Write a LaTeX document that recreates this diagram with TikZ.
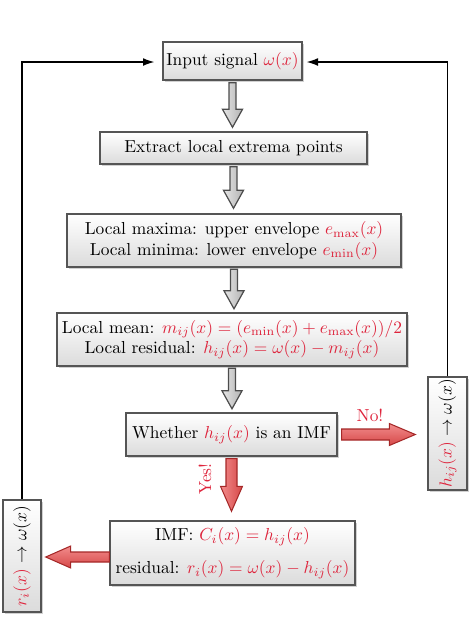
\documentclass[tikz,border=0pt]{standalone}
\usepackage{amsmath}
\usepackage{graphicx}
\usetikzlibrary{calc,shadows,arrows.meta}
\definecolor{eqred}{RGB}{222,36,60}
\definecolor{boxline}{RGB}{85,85,85}
\definecolor{arrred}{RGB}{214,72,72}
\definecolor{arrredlight}{RGB}{242,140,140}
\definecolor{arrredline}{RGB}{165,40,40}
\newcommand\pxu{0.575pt}
\newcommand\rt[1]{\textcolor{eqred}{$#1$}}
% vertical block arrow: style, from, to, shaft half, head half, head length
\newcommand\blkv[6]{%
  \path[#1] let \p1=(#2), \p2=(#3) in
    (\x1-#4*\pxu,\y1) -- (\x1+#4*\pxu,\y1) -- (\x1+#4*\pxu,\y2+#6*\pxu)
    -- (\x1+#5*\pxu,\y2+#6*\pxu) -- (\x1,\y2) -- (\x1-#5*\pxu,\y2+#6*\pxu)
    -- (\x1-#4*\pxu,\y2+#6*\pxu) -- cycle;}
% horizontal block arrow: style, from, to, shaft half, head half, signed head length
\newcommand\blkh[6]{%
  \path[#1] let \p1=(#2), \p2=(#3) in
    (\x1,\y1+#4*\pxu) -- (\x1,\y1-#4*\pxu) -- (\x2-#6*\pxu,\y1-#4*\pxu)
    -- (\x2-#6*\pxu,\y1-#5*\pxu) -- (\x2,\y1) -- (\x2-#6*\pxu,\y1+#5*\pxu)
    -- (\x2-#6*\pxu,\y1+#4*\pxu) -- cycle;}
\tikzset{
  box/.style={draw=boxline, line width=0.8pt, top color=white, bottom color=black!14,
    drop shadow={shadow xshift=1.2pt, shadow yshift=-1.2pt, opacity=0.3, fill=black!60},
    inner sep=0pt, align=center},
  grayarr/.style={draw=black!70, line width=0.7pt, left color=black!10, right color=black!30},
  redarr/.style={draw=arrredline, line width=0.6pt, top color=arrredlight, bottom color=arrred},
  redarrv/.style={draw=arrredline, line width=0.6pt, left color=arrredlight, right color=arrred},
  loopline/.style={draw=black, line width=0.65pt, -{Latex[length=6.5pt,width=4.5pt]}},
  lbl/.style={text=eqred, inner sep=0pt}
}
\begin{document}
\begin{tikzpicture}[x=0.575pt,y=-0.575pt]
\useasboundingbox (0,0) rectangle (474,620);

\node[box, minimum width=139*\pxu, minimum height=38*\pxu] (inp) at (232.5,61)
  {Input signal \rt{\omega(x)}};
\node[box, minimum width=267*\pxu, minimum height=32*\pxu] (ext) at (233.5,148)
  {Extract local extrema points};
\node[box, minimum width=334*\pxu, minimum height=53*\pxu] (env) at (234,240.5)
  {Local maxima: upper envelope \rt{e_{\max}(x)}\\
   Local minima: lower envelope \rt{e_{\min}(x)}};
\node[box, minimum width=350*\pxu, minimum height=53*\pxu] (mean) at (232,339.5)
  {Local mean: \rt{m_{ij}(x)=(e_{\min}(x)+e_{\max}(x))/2}\\
   Local residual: \rt{h_{ij}(x)=\omega(x)-m_{ij}(x)}};
\node[box, minimum width=211*\pxu, minimum height=43*\pxu] (wh) at (231.5,434.5)
  {Whether \rt{h_{ij}(x)} is an IMF};
\node[box, minimum width=245*\pxu, minimum height=64*\pxu] (imf) at (232.5,553)
  {IMF: \rt{C_i(x)=h_{ij}(x)}\\[7pt]
   residual: \rt{r_i(x)=\omega(x)-h_{ij}(x)}};
\node[box, minimum width=39*\pxu, minimum height=113*\pxu] (rbox) at (447.5,433.5)
  {\rotatebox{90}{\rt{h_{ij}(x)} $\rightarrow\omega(x)$}};
\node[box, minimum width=38*\pxu, minimum height=112*\pxu] (lbox) at (22,556)
  {\rotatebox{90}{\rt{r_i(x)} $\rightarrow\omega(x)$}};

% gray block arrows
\blkv{grayarr}{$(inp.south)+(0,2)$}{$(ext.north)+(0,-4)$}{3.5}{10}{18}
\blkv{grayarr}{$(ext.south)+(0,2)$}{$(env.north)+(0,-5)$}{3.5}{10}{18}
\blkv{grayarr}{$(env.south)+(0,1.5)$}{$(mean.north)+(0,-3.5)$}{3.5}{10}{18}
\blkv{grayarr}{$(mean.south)+(0,1.5)$}{$(wh.north)+(0,-3.5)$}{3.5}{10}{18}

% red block arrows
\blkv{redarrv}{$(wh.south)+(0,2)$}{$(imf.north)+(0,-9)$}{5.5}{11}{25}
\blkh{redarr}{$(wh.east)+(4,0)$}{$(rbox.west)+(-12,0)$}{5.5}{11}{26}
\blkh{redarr}{$(imf.west)+(0,4)$}{$(lbox.east)+(4,4)$}{5}{11}{-25}

\node[lbl] (no) at (370,415) {No!};
\node[lbl, rotate=90] (yes) at (205,479) {Yes!};

% feedback lines
\coordinate (rtop) at (448,62);
\coordinate (ltop) at (21,62);
\draw[loopline, shorten >=4*\pxu] (rbox.north) -- (rbox.north |- rtop) -- (rtop -| inp.east);
\draw[loopline, shorten >=8*\pxu] (lbox.north) -- (lbox.north |- ltop) -- (ltop -| inp.west);
\end{tikzpicture}
\end{document}
